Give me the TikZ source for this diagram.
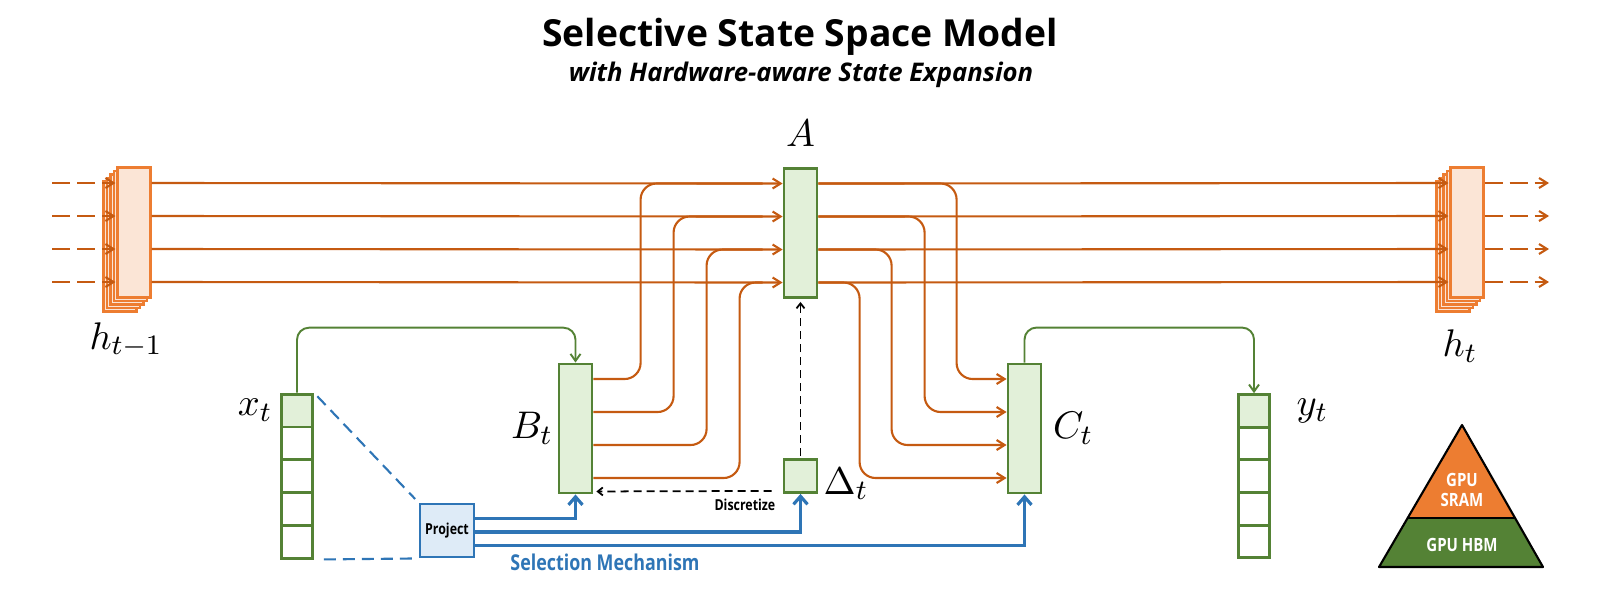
\documentclass[tikz,border=0pt]{standalone}
\usepackage{amsmath}
\usepackage{fontspec}
\setmainfont{Open Sans}
\newfontfamily\condFont[FakeStretch=0.82]{Open Sans}
\usepackage{tikz}
\usetikzlibrary{positioning}
\usetikzlibrary{calc}
\usetikzlibrary{arrows.meta}
\definecolor{stateColor}{HTML}{C55A11}
\definecolor{stackColor}{HTML}{ED7D31}
\definecolor{stackFill}{HTML}{FBE5D6}
\definecolor{paramColor}{HTML}{548235}
\definecolor{paramFill}{HTML}{E2F0D9}
\definecolor{selectColor}{HTML}{2E75B6}
\definecolor{selectFill}{HTML}{DEEBF7}

\begin{document}
\begin{tikzpicture}[x=0.01cm, y=-0.01cm]

          \tikzstyle{stackBox} = [draw=stackColor, fill=stackFill, line width=0.6pt, minimum width=0.33cm, minimum height=1.3cm, inner sep=0pt];
          \tikzstyle{paramBox} = [draw=paramColor, fill=paramFill, line width=0.8pt, minimum width=0.33cm, minimum height=1.29cm, inner sep=0pt];
          \tikzstyle{deltaBox} = [paramBox, minimum height=0.33cm];
          \tikzstyle{cellBox} = [draw=paramColor, line width=0.8pt, minimum width=0.31cm, minimum height=0.328cm, inner sep=0pt];
          \tikzstyle{projBox} = [draw=selectColor, fill=selectFill, line width=0.8pt, minimum width=0.54cm, minimum height=0.53cm, inner sep=0pt];

          \tikzstyle{stateEdge} = [stateColor, line width=0.6pt, -{Straight Barb[length=0.08cm, width=0.1cm]}];
          \tikzstyle{routeEdge} = [stateColor, line width=0.6pt, rounded corners=0.16cm];
          \tikzstyle{dashedEdge} = [stateEdge, dash pattern=on 0.18cm off 0.07cm];
          \tikzstyle{greenEdge} = [paramColor, line width=0.55pt, rounded corners=0.12cm, -{Straight Barb[length=0.07cm, width=0.1cm]}];
          \tikzstyle{selectEdge} = [selectColor, line width=0.9pt, -{Straight Barb[length=0.08cm, width=0.14cm]}];
          \tikzstyle{projLine} = [selectColor, line width=0.6pt, dash pattern=on 0.12cm off 0.07cm];
          \tikzstyle{discEdge} = [black, line width=0.5pt, dash pattern=on 0.08cm off 0.05cm, -{Straight Barb[length=0.05cm, width=0.08cm]}];

          \tikzstyle{mathLabel} = [font=\fontsize{11}{13}\selectfont, inner sep=0pt];
          \tikzstyle{condLabel} = [font=\condFont\bfseries\fontsize{4.3}{5}\selectfont, inner sep=0pt];
          \tikzstyle{gpuLabel} = [font=\condFont\bfseries\fontsize{5.2}{5.8}\selectfont, text=white, inner sep=0pt, align=center];

          \useasboundingbox (0,0) rectangle (1600,605);

          % title
          \node[font=\bfseries\fontsize{10.6}{12}\selectfont] (title) at (800,37) {Selective State Space Model};
          \node[font=\bfseries\itshape\fontsize{7.3}{9}\selectfont] (subtitle) at (801,75) {with Hardware-aware State Expansion};

          % hidden state stacks
          \foreach \k in {4,3,2,1} {
            \node[stackBox] at (134-3.5*\k, 232.5+3.5*\k) {};
            \node[stackBox] at (1467-3.5*\k, 232.5+3.5*\k) {};
          }
          \node[stackBox] (hprev) at (134,232.5) {};
          \node[stackBox] (hnext) at (1467,232.5) {};
          \node[mathLabel] (hprevLabel) at (126,340) {$h_{t-1}$};
          \node[mathLabel] (hnextLabel) at (1460,346) {$h_t$};
          \coordinate (inStart) at (52,232.5);
          \coordinate (outEnd) at (1549,232.5);

          % parameters
          \node[paramBox] (A) at (800.5,233) {};
          \node[paramBox] (B) at (575.5,428.5) {};
          \node[paramBox] (C) at (1024.5,428.5) {};
          \node[deltaBox] (D) at (800.5,476) {};
          \node[mathLabel, above=0.2cm of A] (ALabel) {$A$};
          \node[mathLabel, left=0.04cm of B] (BLabel) {$B_t$};
          \node[mathLabel, right=0.1cm of C] (CLabel) {$C_t$};
          \node[mathLabel, anchor=base west] (DLabel) at (823,494) {$\Delta_t$};

          % input and output
          \node[cellBox, fill=paramFill] (x0) at (297,410.5) {};
          \node[cellBox, fill=paramFill] (y0) at (1254,411) {};
          \foreach \k in {1,...,4} {
            \node[cellBox] (x\k) at (297, 410.5+32.8*\k) {};
            \node[cellBox] (y\k) at (1254, 411+32.6*\k) {};
          }
          \node[mathLabel, left=0.07cm of x0] (xLabel) {$x_t$};
          \node[mathLabel, right=0.25cm of y0] (yLabel) {$y_t$};

          \node[projBox, font=\condFont\bfseries\fontsize{4.3}{5}\selectfont] (proj) at (447,530.5) {Project};

          % state lines
          \foreach \dy/\rx/\cx in {-49.5/642/958, -16.5/675/926, 16.5/708/893, 49.5/741/861} {
            \draw[dashedEdge] ($(inStart)+(0,\dy)$) -- ($(hprev.west)+(-1,\dy)$);
            \draw[stateEdge] ($(hprev.east)+(0,\dy)$) -- ($(A.west)+(0,\dy)$);
            \draw[stateEdge] ($(A.east)+(0,\dy)$) -- ($(hnext.west)+(-1,\dy)$);
            \draw[dashedEdge] ($(hnext.east)+(0,\dy)$) -- ($(outEnd)+(0,\dy)$);
            \draw[routeEdge] ($(B.east)+(0,\dy)$) -| ($(A.west)+(\rx-784,\dy)$) -- ($(A.west)+(-20,\dy)$);
            \draw[stateEdge, rounded corners=0.16cm] ($(A.east)+(0,\dy)$) -| ($(C.west)+(\cx-1008,\dy)$) -- ($(C.west)+(0,\dy)$);
          }

          % input to B, C to output
          \draw[greenEdge] (x0.north) -- ++(0,-65) -| (B.north);
          \draw[greenEdge] (C.north) -- ++(0,-35) -| (y0.north);

          % discretize
          \draw[discEdge] ($(D.north)+(0,-2)$) -- ($(A.south)+(0,3)$);
          \draw[discEdge] ($(D.south west)+(-11,-3)$) -- ($(B.south east)+(3,-3)$);
          \node[condLabel, anchor=east] (discLabel) at (776,505) {Discretize};

          % selection mechanism
          \draw[projLine, shorten <=0.05cm, shorten >=0.05cm] (x0.north east) -- (proj.north west);
          \draw[projLine, shorten <=0.1cm, shorten >=0.05cm] (x4.south east) -- (proj.south west);
          \draw[selectEdge] ($(proj.east)+(0,-12)$) -| (B.south);
          \draw[selectEdge] ($(proj.east)+(0,1.5)$) -| (D.south);
          \draw[selectEdge] ($(proj.east)+(0,15)$) -| (C.south);
          \node[font=\condFont\bfseries\fontsize{6.2}{7}\selectfont, text=selectColor, inner sep=0pt] (selLabel) at (605,562) {Selection Mechanism};

          % memory hierarchy
          \coordinate (gpuTop) at (1462,425);
          \coordinate (gpuLeft) at (1379,567);
          \coordinate (gpuRight) at (1543,567);
          \coordinate (gpuMidL) at (1407.6,518);
          \coordinate (gpuMidR) at (1515,518);
          \fill[stackColor] (gpuTop) -- (gpuMidR) -- (gpuMidL) -- cycle;
          \fill[paramColor] (gpuMidL) -- (gpuMidR) -- (gpuRight) -- (gpuLeft) -- cycle;
          \draw[line width=0.6pt, line join=round] (gpuTop) -- (gpuRight) -- (gpuLeft) -- cycle;
          \draw[line width=0.6pt] (gpuMidL) -- (gpuMidR);
          \node[gpuLabel] (sram) at (1462,490) {GPU\\SRAM};
          \node[gpuLabel] (hbm) at (1462,545) {GPU HBM};
        \end{tikzpicture}
\end{document}
